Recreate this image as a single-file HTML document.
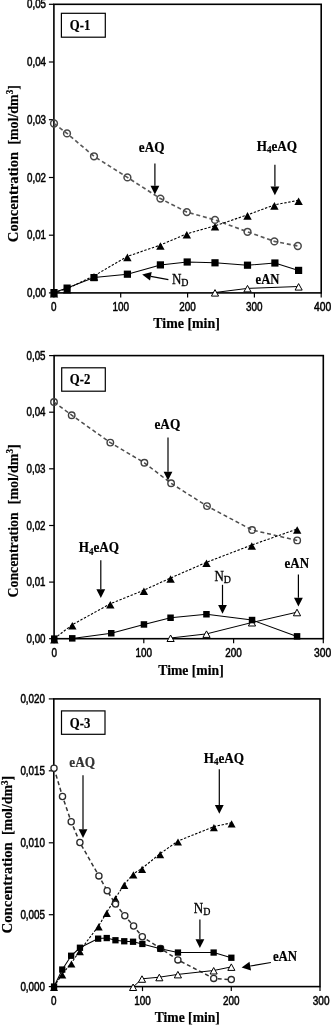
<!DOCTYPE html>
<html><head><meta charset="utf-8"><title>Concentration vs time (Q-1, Q-2, Q-3)</title>
<style>html,body{margin:0;padding:0;background:#fff}svg text{white-space:pre}</style></head>
<body>
<svg width="331" height="1026" viewBox="0 0 331 1026" style="display:block">
<rect width="331" height="1026" fill="#fff"/>
<rect x="53.9" y="4.3" width="267.3" height="288.59999999999997" fill="none" stroke="#000" stroke-width="1.6"/>
<line x1="48.9" y1="292.9" x2="53.9" y2="292.9" stroke="#000" stroke-width="1.2"/>
<text x="27" y="297.0" font-family='"Liberation Sans", sans-serif' font-size="11.9" font-weight="normal" text-anchor="start" fill="#000" textLength="19" lengthAdjust="spacingAndGlyphs" stroke="#000" stroke-width="0.5">0,00</text>
<line x1="48.9" y1="235.2" x2="53.9" y2="235.2" stroke="#000" stroke-width="1.2"/>
<text x="27" y="239.3" font-family='"Liberation Sans", sans-serif' font-size="11.9" font-weight="normal" text-anchor="start" fill="#000" textLength="19" lengthAdjust="spacingAndGlyphs" stroke="#000" stroke-width="0.5">0,01</text>
<line x1="48.9" y1="177.5" x2="53.9" y2="177.5" stroke="#000" stroke-width="1.2"/>
<text x="27" y="181.6" font-family='"Liberation Sans", sans-serif' font-size="11.9" font-weight="normal" text-anchor="start" fill="#000" textLength="19" lengthAdjust="spacingAndGlyphs" stroke="#000" stroke-width="0.5">0,02</text>
<line x1="48.9" y1="119.7" x2="53.9" y2="119.7" stroke="#000" stroke-width="1.2"/>
<text x="27" y="123.8" font-family='"Liberation Sans", sans-serif' font-size="11.9" font-weight="normal" text-anchor="start" fill="#000" textLength="19" lengthAdjust="spacingAndGlyphs" stroke="#000" stroke-width="0.5">0,03</text>
<line x1="48.9" y1="62.0" x2="53.9" y2="62.0" stroke="#000" stroke-width="1.2"/>
<text x="27" y="66.1" font-family='"Liberation Sans", sans-serif' font-size="11.9" font-weight="normal" text-anchor="start" fill="#000" textLength="19" lengthAdjust="spacingAndGlyphs" stroke="#000" stroke-width="0.5">0,04</text>
<line x1="48.9" y1="4.3" x2="53.9" y2="4.3" stroke="#000" stroke-width="1.2"/>
<text x="27" y="8.4" font-family='"Liberation Sans", sans-serif' font-size="11.9" font-weight="normal" text-anchor="start" fill="#000" textLength="19" lengthAdjust="spacingAndGlyphs" stroke="#000" stroke-width="0.5">0,05</text>
<line x1="53.9" y1="292.9" x2="53.9" y2="297.4" stroke="#000" stroke-width="1.2"/>
<text x="51.1" y="311.2" font-family='"Liberation Sans", sans-serif' font-size="11.9" font-weight="normal" text-anchor="start" fill="#000" textLength="5.5" lengthAdjust="spacingAndGlyphs" stroke="#000" stroke-width="0.5">0</text>
<line x1="120.7" y1="292.9" x2="120.7" y2="297.4" stroke="#000" stroke-width="1.2"/>
<text x="112.5" y="311.2" font-family='"Liberation Sans", sans-serif' font-size="11.9" font-weight="normal" text-anchor="start" fill="#000" textLength="16.5" lengthAdjust="spacingAndGlyphs" stroke="#000" stroke-width="0.5">100</text>
<line x1="187.6" y1="292.9" x2="187.6" y2="297.4" stroke="#000" stroke-width="1.2"/>
<text x="179.3" y="311.2" font-family='"Liberation Sans", sans-serif' font-size="11.9" font-weight="normal" text-anchor="start" fill="#000" textLength="16.5" lengthAdjust="spacingAndGlyphs" stroke="#000" stroke-width="0.5">200</text>
<line x1="254.4" y1="292.9" x2="254.4" y2="297.4" stroke="#000" stroke-width="1.2"/>
<text x="246.1" y="311.2" font-family='"Liberation Sans", sans-serif' font-size="11.9" font-weight="normal" text-anchor="start" fill="#000" textLength="16.5" lengthAdjust="spacingAndGlyphs" stroke="#000" stroke-width="0.5">300</text>
<line x1="321.2" y1="292.9" x2="321.2" y2="297.4" stroke="#000" stroke-width="1.2"/>
<text x="314.1" y="311.2" font-family='"Liberation Sans", sans-serif' font-size="11.9" font-weight="normal" text-anchor="start" fill="#000" textLength="17.2" lengthAdjust="spacingAndGlyphs" stroke="#000" stroke-width="0.5">400</text>
<rect x="61.4" y="13.3" width="43.9" height="23.900000000000002" fill="none" stroke="#000" stroke-width="1.2"/>
<text x="69.8" y="30.2" font-family='"Liberation Serif", serif' font-size="14.2" font-weight="bold" text-anchor="start" fill="#000" textLength="20.5" lengthAdjust="spacingAndGlyphs" stroke="#000" stroke-width="0.2">Q-1</text>
<g transform="translate(17.5,241) rotate(-90)">
<text x="-1.2" y="0" font-family='"Liberation Serif", serif' font-size="15.3" font-weight="bold" text-anchor="start" fill="#000" textLength="90.3" lengthAdjust="spacingAndGlyphs" stroke="#000" stroke-width="0.2">Concentration</text>
<text x="96.4" y="0" font-family='"Liberation Serif", serif' font-size="15.3" font-weight="bold" text-anchor="start" fill="#000" textLength="59.4" lengthAdjust="spacingAndGlyphs" stroke="#000" stroke-width="0.2">[mol/dm<tspan font-size="9.8" dy="-4.8">3</tspan><tspan dy="4.8">]</tspan></text>
</g>
<text x="153.3" y="328.2" font-family='"Liberation Serif", serif' font-size="14.2" font-weight="bold" text-anchor="start" fill="#000" textLength="66.5" lengthAdjust="spacingAndGlyphs" stroke="#000" stroke-width="0.2">Time [min]</text>
<polyline points="54.0,123.5 67.0,133.4 94.0,156.3 127.4,177.4 160.4,198.6 186.8,212.1 215.0,219.9 247.5,231.8 274.4,241.4 297.8,246.0" fill="none" stroke="#585858" stroke-width="1.65" stroke-dasharray="4 2.8"/>
<polyline points="54.0,292.6 67.2,288.6 94.0,275.9 127.4,256.4 160.4,245.0 186.8,233.8 215.0,225.8 247.5,214.9 274.4,204.9 298.6,200.3" fill="none" stroke="#000" stroke-width="1.1" stroke-dasharray="2.4 1.6"/>
<polyline points="54.0,292.6 67.1,288.1 94.0,277.6 127.4,274.2 160.4,264.9 187.2,262.0 215.0,262.8 247.5,265.2 274.9,263.0 298.6,270.4" fill="none" stroke="#000" stroke-width="1.05"/>
<polyline points="215.0,292.5 247.5,288.4 298.6,286.5" fill="none" stroke="#000" stroke-width="1.0"/>
<polygon points="215.0,289.6 218.6,296.1 211.4,296.1" fill="#fff" stroke="#000" stroke-width="1"/>
<polygon points="247.5,285.4 251.1,291.9 243.9,291.9" fill="#fff" stroke="#000" stroke-width="1"/>
<polygon points="298.6,283.6 302.2,290.1 295.1,290.1" fill="#fff" stroke="#000" stroke-width="1"/>
<polygon points="54.0,289.8 58.2,297.4 49.8,297.4" fill="#000"/>
<polygon points="67.2,285.8 71.4,293.4 63.0,293.4" fill="#000"/>
<polygon points="94.0,273.1 98.2,280.7 89.8,280.7" fill="#000"/>
<polygon points="127.4,253.6 131.6,261.2 123.2,261.2" fill="#000"/>
<polygon points="160.4,242.2 164.6,249.8 156.2,249.8" fill="#000"/>
<polygon points="186.8,231.0 191.0,238.6 182.6,238.6" fill="#000"/>
<polygon points="215.0,223.0 219.2,230.6 210.8,230.6" fill="#000"/>
<polygon points="247.5,212.1 251.7,219.7 243.3,219.7" fill="#000"/>
<polygon points="274.4,202.1 278.6,209.7 270.2,209.7" fill="#000"/>
<polygon points="298.6,197.5 302.8,205.1 294.4,205.1" fill="#000"/>
<circle cx="54.0" cy="123.5" r="3.4" fill="none" stroke="#484848" stroke-width="1.5"/>
<circle cx="67.0" cy="133.4" r="3.4" fill="none" stroke="#484848" stroke-width="1.5"/>
<circle cx="94.0" cy="156.3" r="3.4" fill="none" stroke="#484848" stroke-width="1.5"/>
<circle cx="127.4" cy="177.4" r="3.4" fill="none" stroke="#484848" stroke-width="1.5"/>
<circle cx="160.4" cy="198.6" r="3.4" fill="none" stroke="#484848" stroke-width="1.5"/>
<circle cx="186.8" cy="212.1" r="3.4" fill="none" stroke="#484848" stroke-width="1.5"/>
<circle cx="215.0" cy="219.9" r="3.4" fill="none" stroke="#484848" stroke-width="1.5"/>
<circle cx="247.5" cy="231.8" r="3.4" fill="none" stroke="#484848" stroke-width="1.5"/>
<circle cx="274.4" cy="241.4" r="3.4" fill="none" stroke="#484848" stroke-width="1.5"/>
<circle cx="297.8" cy="246.0" r="3.4" fill="none" stroke="#484848" stroke-width="1.5"/>
<rect x="50.4" y="289.0" width="7.2" height="7.2" fill="#000"/>
<rect x="63.5" y="284.5" width="7.2" height="7.2" fill="#000"/>
<rect x="90.4" y="274.0" width="7.2" height="7.2" fill="#000"/>
<rect x="123.8" y="270.6" width="7.2" height="7.2" fill="#000"/>
<rect x="156.8" y="261.3" width="7.2" height="7.2" fill="#000"/>
<rect x="183.6" y="258.4" width="7.2" height="7.2" fill="#000"/>
<rect x="211.4" y="259.2" width="7.2" height="7.2" fill="#000"/>
<rect x="243.9" y="261.6" width="7.2" height="7.2" fill="#000"/>
<rect x="271.3" y="259.4" width="7.2" height="7.2" fill="#000"/>
<rect x="295.0" y="266.8" width="7.2" height="7.2" fill="#000"/>
<line x1="154.9" y1="163.4" x2="154.9" y2="185.8" stroke="#000" stroke-width="1.2"/>
<polygon points="154.9,194.6 150.5,185.8 159.3,185.8" fill="#000"/>
<line x1="274.9" y1="164.7" x2="274.9" y2="186.4" stroke="#000" stroke-width="1.2"/>
<polygon points="274.9,195.2 270.5,186.4 279.3,186.4" fill="#000"/>
<line x1="168.4" y1="279.7" x2="150.8" y2="276.3" stroke="#000" stroke-width="1.2"/>
<polygon points="142.2,274.6 151.7,272.0 150.0,280.6" fill="#000"/>
<text x="138.8" y="151.9" font-family='"Liberation Serif", serif' font-size="14.6" font-weight="bold" text-anchor="start" fill="#000" textLength="25.6" lengthAdjust="spacingAndGlyphs" stroke="#000" stroke-width="0.2">eAQ</text>
<text x="256.8" y="150.5" font-family='"Liberation Serif", serif' font-size="14.6" font-weight="bold" text-anchor="start" fill="#000" textLength="40.3" lengthAdjust="spacingAndGlyphs" stroke="#000" stroke-width="0.2">H<tspan font-size="10" dy="2.5">4</tspan><tspan dy="-2.5">eAQ</tspan></text>
<text x="171.9" y="283.6" font-family='"Liberation Serif", serif' font-size="14.2" font-weight="normal" text-anchor="start" fill="#000" textLength="16.6" lengthAdjust="spacingAndGlyphs" stroke="#000" stroke-width="0.3">N<tspan font-size="10.8" dy="2.2">D</tspan></text>
<text x="255.6" y="283.7" font-family='"Liberation Serif", serif' font-size="14.6" font-weight="bold" text-anchor="start" fill="#000" textLength="23.8" lengthAdjust="spacingAndGlyphs" stroke="#000" stroke-width="0.2">eAN</text>
<rect x="54.1" y="355.6" width="269.2" height="283.1" fill="none" stroke="#000" stroke-width="1.6"/>
<line x1="49.1" y1="638.7" x2="54.1" y2="638.7" stroke="#000" stroke-width="1.2"/>
<text x="26.5" y="642.8" font-family='"Liberation Sans", sans-serif' font-size="11.9" font-weight="normal" text-anchor="start" fill="#000" textLength="19" lengthAdjust="spacingAndGlyphs" stroke="#000" stroke-width="0.5">0,00</text>
<line x1="49.1" y1="582.1" x2="54.1" y2="582.1" stroke="#000" stroke-width="1.2"/>
<text x="26.5" y="586.2" font-family='"Liberation Sans", sans-serif' font-size="11.9" font-weight="normal" text-anchor="start" fill="#000" textLength="19" lengthAdjust="spacingAndGlyphs" stroke="#000" stroke-width="0.5">0,01</text>
<line x1="49.1" y1="525.5" x2="54.1" y2="525.5" stroke="#000" stroke-width="1.2"/>
<text x="26.5" y="529.6" font-family='"Liberation Sans", sans-serif' font-size="11.9" font-weight="normal" text-anchor="start" fill="#000" textLength="19" lengthAdjust="spacingAndGlyphs" stroke="#000" stroke-width="0.5">0,02</text>
<line x1="49.1" y1="468.8" x2="54.1" y2="468.8" stroke="#000" stroke-width="1.2"/>
<text x="26.5" y="472.9" font-family='"Liberation Sans", sans-serif' font-size="11.9" font-weight="normal" text-anchor="start" fill="#000" textLength="19" lengthAdjust="spacingAndGlyphs" stroke="#000" stroke-width="0.5">0,03</text>
<line x1="49.1" y1="412.2" x2="54.1" y2="412.2" stroke="#000" stroke-width="1.2"/>
<text x="26.5" y="416.3" font-family='"Liberation Sans", sans-serif' font-size="11.9" font-weight="normal" text-anchor="start" fill="#000" textLength="19" lengthAdjust="spacingAndGlyphs" stroke="#000" stroke-width="0.5">0,04</text>
<line x1="49.1" y1="355.6" x2="54.1" y2="355.6" stroke="#000" stroke-width="1.2"/>
<text x="26.5" y="359.7" font-family='"Liberation Sans", sans-serif' font-size="11.9" font-weight="normal" text-anchor="start" fill="#000" textLength="19" lengthAdjust="spacingAndGlyphs" stroke="#000" stroke-width="0.5">0,05</text>
<line x1="54.1" y1="638.7" x2="54.1" y2="643.2" stroke="#000" stroke-width="1.2"/>
<text x="51.4" y="657.0" font-family='"Liberation Sans", sans-serif' font-size="11.9" font-weight="normal" text-anchor="start" fill="#000" textLength="5.5" lengthAdjust="spacingAndGlyphs" stroke="#000" stroke-width="0.5">0</text>
<line x1="143.8" y1="638.7" x2="143.8" y2="643.2" stroke="#000" stroke-width="1.2"/>
<text x="135.6" y="657.0" font-family='"Liberation Sans", sans-serif' font-size="11.9" font-weight="normal" text-anchor="start" fill="#000" textLength="16.5" lengthAdjust="spacingAndGlyphs" stroke="#000" stroke-width="0.5">100</text>
<line x1="233.6" y1="638.7" x2="233.6" y2="643.2" stroke="#000" stroke-width="1.2"/>
<text x="225.3" y="657.0" font-family='"Liberation Sans", sans-serif' font-size="11.9" font-weight="normal" text-anchor="start" fill="#000" textLength="16.5" lengthAdjust="spacingAndGlyphs" stroke="#000" stroke-width="0.5">200</text>
<line x1="323.3" y1="638.7" x2="323.3" y2="643.2" stroke="#000" stroke-width="1.2"/>
<text x="314.1" y="657.0" font-family='"Liberation Sans", sans-serif' font-size="11.9" font-weight="normal" text-anchor="start" fill="#000" textLength="17.2" lengthAdjust="spacingAndGlyphs" stroke="#000" stroke-width="0.5">300</text>
<rect x="61.7" y="367.8" width="43.599999999999994" height="23.399999999999977" fill="none" stroke="#000" stroke-width="1.2"/>
<text x="69.8" y="383.6" font-family='"Liberation Serif", serif' font-size="14.2" font-weight="bold" text-anchor="start" fill="#000" textLength="20.5" lengthAdjust="spacingAndGlyphs" stroke="#000" stroke-width="0.2">Q-2</text>
<g transform="translate(17.5,596.3) rotate(-90)">
<text x="-1.2" y="0" font-family='"Liberation Serif", serif' font-size="15.3" font-weight="bold" text-anchor="start" fill="#000" textLength="85.1" lengthAdjust="spacingAndGlyphs" stroke="#000" stroke-width="0.2">Concentration</text>
<text x="92.0" y="0" font-family='"Liberation Serif", serif' font-size="15.3" font-weight="bold" text-anchor="start" fill="#000" textLength="59.9" lengthAdjust="spacingAndGlyphs" stroke="#000" stroke-width="0.2">[mol/dm<tspan font-size="9.8" dy="-4.8">3</tspan><tspan dy="4.8">]</tspan></text>
</g>
<text x="158.3" y="674.6" font-family='"Liberation Serif", serif' font-size="14.2" font-weight="bold" text-anchor="start" fill="#000" textLength="65.4" lengthAdjust="spacingAndGlyphs" stroke="#000" stroke-width="0.2">Time [min]</text>
<polyline points="54.0,402.0 71.7,415.2 110.3,442.6 144.4,462.8 171.1,483.3 207.0,506.1 252.1,530.0 297.2,540.4" fill="none" stroke="#4c4c4c" stroke-width="1.5" stroke-dasharray="4 2.8"/>
<polyline points="54.3,638.6 72.3,624.7 110.3,603.8 143.9,590.2 170.6,578.0 206.5,562.3 251.8,545.0 297.2,529.0" fill="none" stroke="#000" stroke-width="1.1" stroke-dasharray="2.4 1.6"/>
<polyline points="54.3,638.6 72.2,638.4 111.3,633.2 143.9,624.5 170.6,617.7 206.5,614.2 252.0,620.0 297.0,636.4" fill="none" stroke="#000" stroke-width="1.05"/>
<polyline points="170.6,638.0 206.5,633.9 252.0,622.5 297.0,612.2" fill="none" stroke="#000" stroke-width="1.0"/>
<polygon points="170.6,635.0 174.2,641.5 167.0,641.5" fill="#fff" stroke="#000" stroke-width="1"/>
<polygon points="206.5,630.9 210.1,637.4 202.9,637.4" fill="#fff" stroke="#000" stroke-width="1"/>
<polygon points="252.0,619.5 255.6,626.0 248.4,626.0" fill="#fff" stroke="#000" stroke-width="1"/>
<polygon points="297.0,609.2 300.6,615.8 293.4,615.8" fill="#fff" stroke="#000" stroke-width="1"/>
<polygon points="54.3,635.8 58.5,643.4 50.1,643.4" fill="#000"/>
<polygon points="72.3,621.9 76.5,629.5 68.1,629.5" fill="#000"/>
<polygon points="110.3,601.0 114.5,608.6 106.1,608.6" fill="#000"/>
<polygon points="143.9,587.4 148.1,595.0 139.7,595.0" fill="#000"/>
<polygon points="170.6,575.2 174.8,582.8 166.4,582.8" fill="#000"/>
<polygon points="206.5,559.5 210.7,567.1 202.3,567.1" fill="#000"/>
<polygon points="251.8,542.2 256.0,549.8 247.6,549.8" fill="#000"/>
<polygon points="297.2,526.2 301.4,533.8 293.0,533.8" fill="#000"/>
<circle cx="54.0" cy="402.0" r="3.25" fill="none" stroke="#404040" stroke-width="1.4"/>
<circle cx="71.7" cy="415.2" r="3.25" fill="none" stroke="#404040" stroke-width="1.4"/>
<circle cx="110.3" cy="442.6" r="3.25" fill="none" stroke="#404040" stroke-width="1.4"/>
<circle cx="144.4" cy="462.8" r="3.25" fill="none" stroke="#404040" stroke-width="1.4"/>
<circle cx="171.1" cy="483.3" r="3.25" fill="none" stroke="#404040" stroke-width="1.4"/>
<circle cx="207.0" cy="506.1" r="3.25" fill="none" stroke="#404040" stroke-width="1.4"/>
<circle cx="252.1" cy="530.0" r="3.25" fill="none" stroke="#404040" stroke-width="1.4"/>
<circle cx="297.2" cy="540.4" r="3.25" fill="none" stroke="#404040" stroke-width="1.4"/>
<rect x="51.0" y="635.4" width="6.5" height="6.5" fill="#000"/>
<rect x="69.0" y="635.1" width="6.5" height="6.5" fill="#000"/>
<rect x="108.0" y="630.0" width="6.5" height="6.5" fill="#000"/>
<rect x="140.7" y="621.2" width="6.5" height="6.5" fill="#000"/>
<rect x="167.3" y="614.5" width="6.5" height="6.5" fill="#000"/>
<rect x="203.2" y="611.0" width="6.5" height="6.5" fill="#000"/>
<rect x="248.8" y="616.8" width="6.5" height="6.5" fill="#000"/>
<rect x="293.8" y="633.1" width="6.5" height="6.5" fill="#000"/>
<line x1="168.0" y1="437.5" x2="168.0" y2="471.7" stroke="#000" stroke-width="1.2"/>
<polygon points="168.0,480.5 163.6,471.7 172.4,471.7" fill="#000"/>
<line x1="100.8" y1="560.2" x2="100.8" y2="589.2" stroke="#000" stroke-width="1.2"/>
<polygon points="100.8,598.0 96.4,589.2 105.2,589.2" fill="#000"/>
<line x1="222.5" y1="584.8" x2="222.5" y2="605.0" stroke="#000" stroke-width="1.2"/>
<polygon points="222.5,613.8 218.1,605.0 226.9,605.0" fill="#000"/>
<line x1="298.4" y1="574.5" x2="298.4" y2="597.7" stroke="#000" stroke-width="1.2"/>
<polygon points="298.4,606.5 294.0,597.7 302.8,597.7" fill="#000"/>
<text x="154.5" y="428.7" font-family='"Liberation Serif", serif' font-size="14.6" font-weight="bold" text-anchor="start" fill="#000" textLength="25.7" lengthAdjust="spacingAndGlyphs" stroke="#000" stroke-width="0.2">eAQ</text>
<text x="78.8" y="552.3" font-family='"Liberation Serif", serif' font-size="14.6" font-weight="bold" text-anchor="start" fill="#000" textLength="40.3" lengthAdjust="spacingAndGlyphs" stroke="#000" stroke-width="0.2">H<tspan font-size="10" dy="2.5">4</tspan><tspan dy="-2.5">eAQ</tspan></text>
<text x="214.4" y="580.6" font-family='"Liberation Serif", serif' font-size="14.2" font-weight="normal" text-anchor="start" fill="#000" textLength="16.6" lengthAdjust="spacingAndGlyphs" stroke="#000" stroke-width="0.3">N<tspan font-size="10.8" dy="2.2">D</tspan></text>
<text x="284.5" y="568.3" font-family='"Liberation Serif", serif' font-size="14.6" font-weight="bold" text-anchor="start" fill="#000" textLength="24.5" lengthAdjust="spacingAndGlyphs" stroke="#000" stroke-width="0.2">eAN</text>
<rect x="53.8" y="698.9" width="266.2" height="287.70000000000005" fill="none" stroke="#000" stroke-width="1.6"/>
<line x1="48.8" y1="986.6" x2="53.8" y2="986.6" stroke="#000" stroke-width="1.2"/>
<text x="20.4" y="990.7" font-family='"Liberation Sans", sans-serif' font-size="11.9" font-weight="normal" text-anchor="start" fill="#000" textLength="24.6" lengthAdjust="spacingAndGlyphs" stroke="#000" stroke-width="0.5">0,000</text>
<line x1="48.8" y1="914.7" x2="53.8" y2="914.7" stroke="#000" stroke-width="1.2"/>
<text x="20.4" y="918.8" font-family='"Liberation Sans", sans-serif' font-size="11.9" font-weight="normal" text-anchor="start" fill="#000" textLength="24.6" lengthAdjust="spacingAndGlyphs" stroke="#000" stroke-width="0.5">0,005</text>
<line x1="48.8" y1="842.8" x2="53.8" y2="842.8" stroke="#000" stroke-width="1.2"/>
<text x="20.4" y="846.9" font-family='"Liberation Sans", sans-serif' font-size="11.9" font-weight="normal" text-anchor="start" fill="#000" textLength="24.6" lengthAdjust="spacingAndGlyphs" stroke="#000" stroke-width="0.5">0,010</text>
<line x1="48.8" y1="770.8" x2="53.8" y2="770.8" stroke="#000" stroke-width="1.2"/>
<text x="20.4" y="774.9" font-family='"Liberation Sans", sans-serif' font-size="11.9" font-weight="normal" text-anchor="start" fill="#000" textLength="24.6" lengthAdjust="spacingAndGlyphs" stroke="#000" stroke-width="0.5">0,015</text>
<line x1="48.8" y1="698.9" x2="53.8" y2="698.9" stroke="#000" stroke-width="1.2"/>
<text x="20.4" y="703.0" font-family='"Liberation Sans", sans-serif' font-size="11.9" font-weight="normal" text-anchor="start" fill="#000" textLength="24.6" lengthAdjust="spacingAndGlyphs" stroke="#000" stroke-width="0.5">0,020</text>
<line x1="53.8" y1="986.6" x2="53.8" y2="991.1" stroke="#000" stroke-width="1.2"/>
<text x="51.0" y="1004.9" font-family='"Liberation Sans", sans-serif' font-size="11.9" font-weight="normal" text-anchor="start" fill="#000" textLength="5.5" lengthAdjust="spacingAndGlyphs" stroke="#000" stroke-width="0.5">0</text>
<line x1="142.5" y1="986.6" x2="142.5" y2="991.1" stroke="#000" stroke-width="1.2"/>
<text x="134.3" y="1004.9" font-family='"Liberation Sans", sans-serif' font-size="11.9" font-weight="normal" text-anchor="start" fill="#000" textLength="16.5" lengthAdjust="spacingAndGlyphs" stroke="#000" stroke-width="0.5">100</text>
<line x1="231.3" y1="986.6" x2="231.3" y2="991.1" stroke="#000" stroke-width="1.2"/>
<text x="223.0" y="1004.9" font-family='"Liberation Sans", sans-serif' font-size="11.9" font-weight="normal" text-anchor="start" fill="#000" textLength="16.5" lengthAdjust="spacingAndGlyphs" stroke="#000" stroke-width="0.5">200</text>
<line x1="320.0" y1="986.6" x2="320.0" y2="991.1" stroke="#000" stroke-width="1.2"/>
<text x="312.8" y="1004.9" font-family='"Liberation Sans", sans-serif' font-size="11.9" font-weight="normal" text-anchor="start" fill="#000" textLength="16.7" lengthAdjust="spacingAndGlyphs" stroke="#000" stroke-width="0.5">300</text>
<rect x="61.5" y="710.9" width="43.5" height="23.399999999999977" fill="none" stroke="#000" stroke-width="1.2"/>
<text x="69.8" y="727.5" font-family='"Liberation Serif", serif' font-size="14.2" font-weight="bold" text-anchor="start" fill="#000" textLength="20.5" lengthAdjust="spacingAndGlyphs" stroke="#000" stroke-width="0.2">Q-3</text>
<g transform="translate(12.3,932.3) rotate(-90)">
<text x="-1.2" y="0" font-family='"Liberation Serif", serif' font-size="15.3" font-weight="bold" text-anchor="start" fill="#000" textLength="91.3" lengthAdjust="spacingAndGlyphs" stroke="#000" stroke-width="0.2">Concentration</text>
<text x="97.3" y="0" font-family='"Liberation Serif", serif' font-size="15.3" font-weight="bold" text-anchor="start" fill="#000" textLength="59.1" lengthAdjust="spacingAndGlyphs" stroke="#000" stroke-width="0.2">[mol/dm<tspan font-size="9.8" dy="-4.8">3</tspan><tspan dy="4.8">]</tspan></text>
</g>
<text x="154.7" y="1022.1" font-family='"Liberation Serif", serif' font-size="14.2" font-weight="bold" text-anchor="start" fill="#000" textLength="65.2" lengthAdjust="spacingAndGlyphs" stroke="#000" stroke-width="0.2">Time [min]</text>
<polyline points="54.0,768.3 62.5,796.5 71.2,821.8 79.9,842.5 98.9,875.9 107.2,890.8 115.5,904.1 124.8,915.8 133.6,926.0 142.3,936.8 160.6,948.4 177.9,959.9 213.7,978.4 231.3,979.6" fill="none" stroke="#333" stroke-width="1.5" stroke-dasharray="4 2.8"/>
<polyline points="54.0,986.5 62.3,974.0 71.4,963.0 79.9,950.6 98.7,925.8 106.8,912.3 115.5,897.9 124.3,884.4 133.4,873.8 142.1,868.3 160.2,853.6 178.0,841.0 213.9,826.6 231.6,822.8" fill="none" stroke="#000" stroke-width="1.1" stroke-dasharray="2.4 1.6"/>
<polyline points="54.0,986.5 62.3,969.5 71.2,955.8 79.9,947.8 98.2,938.6 106.8,938.0 115.5,940.3 124.3,941.3 133.1,941.8 142.3,943.9 160.4,948.8 177.9,952.5 213.7,952.5 231.3,957.8" fill="none" stroke="#000" stroke-width="1.05"/>
<polyline points="133.1,987.0 142.0,978.8 159.3,977.2 177.9,974.4 213.7,970.5 231.3,966.9" fill="none" stroke="#000" stroke-width="1.0"/>
<polygon points="133.1,984.0 136.7,990.5 129.5,990.5" fill="#fff" stroke="#000" stroke-width="1"/>
<polygon points="142.0,975.8 145.6,982.3 138.4,982.3" fill="#fff" stroke="#000" stroke-width="1"/>
<polygon points="159.3,974.2 162.9,980.8 155.8,980.8" fill="#fff" stroke="#000" stroke-width="1"/>
<polygon points="177.9,971.4 181.5,977.9 174.3,977.9" fill="#fff" stroke="#000" stroke-width="1"/>
<polygon points="213.7,967.5 217.2,974.0 210.1,974.0" fill="#fff" stroke="#000" stroke-width="1"/>
<polygon points="231.3,963.9 234.9,970.4 227.8,970.4" fill="#fff" stroke="#000" stroke-width="1"/>
<polygon points="54.0,983.9 58.0,991.1 50.0,991.1" fill="#000"/>
<polygon points="62.3,971.4 66.3,978.6 58.3,978.6" fill="#000"/>
<polygon points="71.4,960.4 75.4,967.6 67.4,967.6" fill="#000"/>
<polygon points="79.9,948.0 83.9,955.2 75.9,955.2" fill="#000"/>
<polygon points="98.7,923.2 102.7,930.4 94.7,930.4" fill="#000"/>
<polygon points="106.8,909.7 110.8,916.9 102.8,916.9" fill="#000"/>
<polygon points="115.5,895.3 119.5,902.5 111.5,902.5" fill="#000"/>
<polygon points="124.3,881.8 128.3,889.0 120.3,889.0" fill="#000"/>
<polygon points="133.4,871.2 137.4,878.4 129.4,878.4" fill="#000"/>
<polygon points="142.1,865.7 146.1,872.9 138.1,872.9" fill="#000"/>
<polygon points="160.2,851.0 164.2,858.2 156.2,858.2" fill="#000"/>
<polygon points="178.0,838.4 182.0,845.6 174.0,845.6" fill="#000"/>
<polygon points="213.9,824.0 217.9,831.2 209.9,831.2" fill="#000"/>
<polygon points="231.6,820.2 235.6,827.4 227.6,827.4" fill="#000"/>
<circle cx="54.0" cy="768.3" r="3.1" fill="#fff" stroke="#2a2a2a" stroke-width="1.3"/>
<circle cx="62.5" cy="796.5" r="3.1" fill="#fff" stroke="#2a2a2a" stroke-width="1.3"/>
<circle cx="71.2" cy="821.8" r="3.1" fill="#fff" stroke="#2a2a2a" stroke-width="1.3"/>
<circle cx="79.9" cy="842.5" r="3.1" fill="#fff" stroke="#2a2a2a" stroke-width="1.3"/>
<circle cx="98.9" cy="875.9" r="3.1" fill="#fff" stroke="#2a2a2a" stroke-width="1.3"/>
<circle cx="107.2" cy="890.8" r="3.1" fill="#fff" stroke="#2a2a2a" stroke-width="1.3"/>
<circle cx="115.5" cy="904.1" r="3.1" fill="#fff" stroke="#2a2a2a" stroke-width="1.3"/>
<circle cx="124.8" cy="915.8" r="3.1" fill="#fff" stroke="#2a2a2a" stroke-width="1.3"/>
<circle cx="133.6" cy="926.0" r="3.1" fill="#fff" stroke="#2a2a2a" stroke-width="1.3"/>
<circle cx="142.3" cy="936.8" r="3.1" fill="#fff" stroke="#2a2a2a" stroke-width="1.3"/>
<circle cx="160.6" cy="948.4" r="3.1" fill="#fff" stroke="#2a2a2a" stroke-width="1.3"/>
<circle cx="177.9" cy="959.9" r="3.1" fill="#fff" stroke="#2a2a2a" stroke-width="1.3"/>
<circle cx="213.7" cy="978.4" r="3.1" fill="#fff" stroke="#2a2a2a" stroke-width="1.3"/>
<circle cx="231.3" cy="979.6" r="3.1" fill="#fff" stroke="#2a2a2a" stroke-width="1.3"/>
<rect x="50.9" y="983.4" width="6.3" height="6.3" fill="#000"/>
<rect x="59.1" y="966.4" width="6.3" height="6.3" fill="#000"/>
<rect x="68.0" y="952.6" width="6.3" height="6.3" fill="#000"/>
<rect x="76.8" y="944.6" width="6.3" height="6.3" fill="#000"/>
<rect x="95.0" y="935.5" width="6.3" height="6.3" fill="#000"/>
<rect x="103.6" y="934.9" width="6.3" height="6.3" fill="#000"/>
<rect x="112.3" y="937.1" width="6.3" height="6.3" fill="#000"/>
<rect x="121.1" y="938.1" width="6.3" height="6.3" fill="#000"/>
<rect x="129.9" y="938.6" width="6.3" height="6.3" fill="#000"/>
<rect x="139.2" y="940.8" width="6.3" height="6.3" fill="#000"/>
<rect x="157.2" y="945.6" width="6.3" height="6.3" fill="#000"/>
<rect x="174.8" y="949.4" width="6.3" height="6.3" fill="#000"/>
<rect x="210.5" y="949.4" width="6.3" height="6.3" fill="#000"/>
<rect x="228.2" y="954.6" width="6.3" height="6.3" fill="#000"/>
<line x1="83.0" y1="775.3" x2="83.0" y2="829.2" stroke="#000" stroke-width="1.2"/>
<polygon points="83.0,838.0 78.6,829.2 87.4,829.2" fill="#000"/>
<line x1="219.3" y1="769.2" x2="219.3" y2="805.0" stroke="#000" stroke-width="1.2"/>
<polygon points="219.3,813.8 214.9,805.0 223.7,805.0" fill="#000"/>
<line x1="199.9" y1="919.5" x2="199.9" y2="939.2" stroke="#000" stroke-width="1.2"/>
<polygon points="199.9,948.0 195.5,939.2 204.3,939.2" fill="#000"/>
<line x1="270.9" y1="962.5" x2="250.3" y2="966.0" stroke="#000" stroke-width="1.2"/>
<polygon points="241.6,967.5 249.5,961.7 251.0,970.4" fill="#000"/>
<text x="69.3" y="766.7" font-family='"Liberation Serif", serif' font-size="14.6" font-weight="bold" text-anchor="start" fill="#333" textLength="25.7" lengthAdjust="spacingAndGlyphs" stroke="#333" stroke-width="0.2">eAQ</text>
<text x="203.7" y="762.6" font-family='"Liberation Serif", serif' font-size="14.6" font-weight="bold" text-anchor="start" fill="#000" textLength="40.3" lengthAdjust="spacingAndGlyphs" stroke="#000" stroke-width="0.2">H<tspan font-size="10" dy="2.5">4</tspan><tspan dy="-2.5">eAQ</tspan></text>
<text x="193.8" y="912.7" font-family='"Liberation Serif", serif' font-size="14.2" font-weight="normal" text-anchor="start" fill="#000" textLength="16.6" lengthAdjust="spacingAndGlyphs" stroke="#000" stroke-width="0.3">N<tspan font-size="10.8" dy="2.2">D</tspan></text>
<text x="272.9" y="960.7" font-family='"Liberation Serif", serif' font-size="14.6" font-weight="bold" text-anchor="start" fill="#000" textLength="24.2" lengthAdjust="spacingAndGlyphs" stroke="#000" stroke-width="0.2">eAN</text>
</svg>
</body></html>
